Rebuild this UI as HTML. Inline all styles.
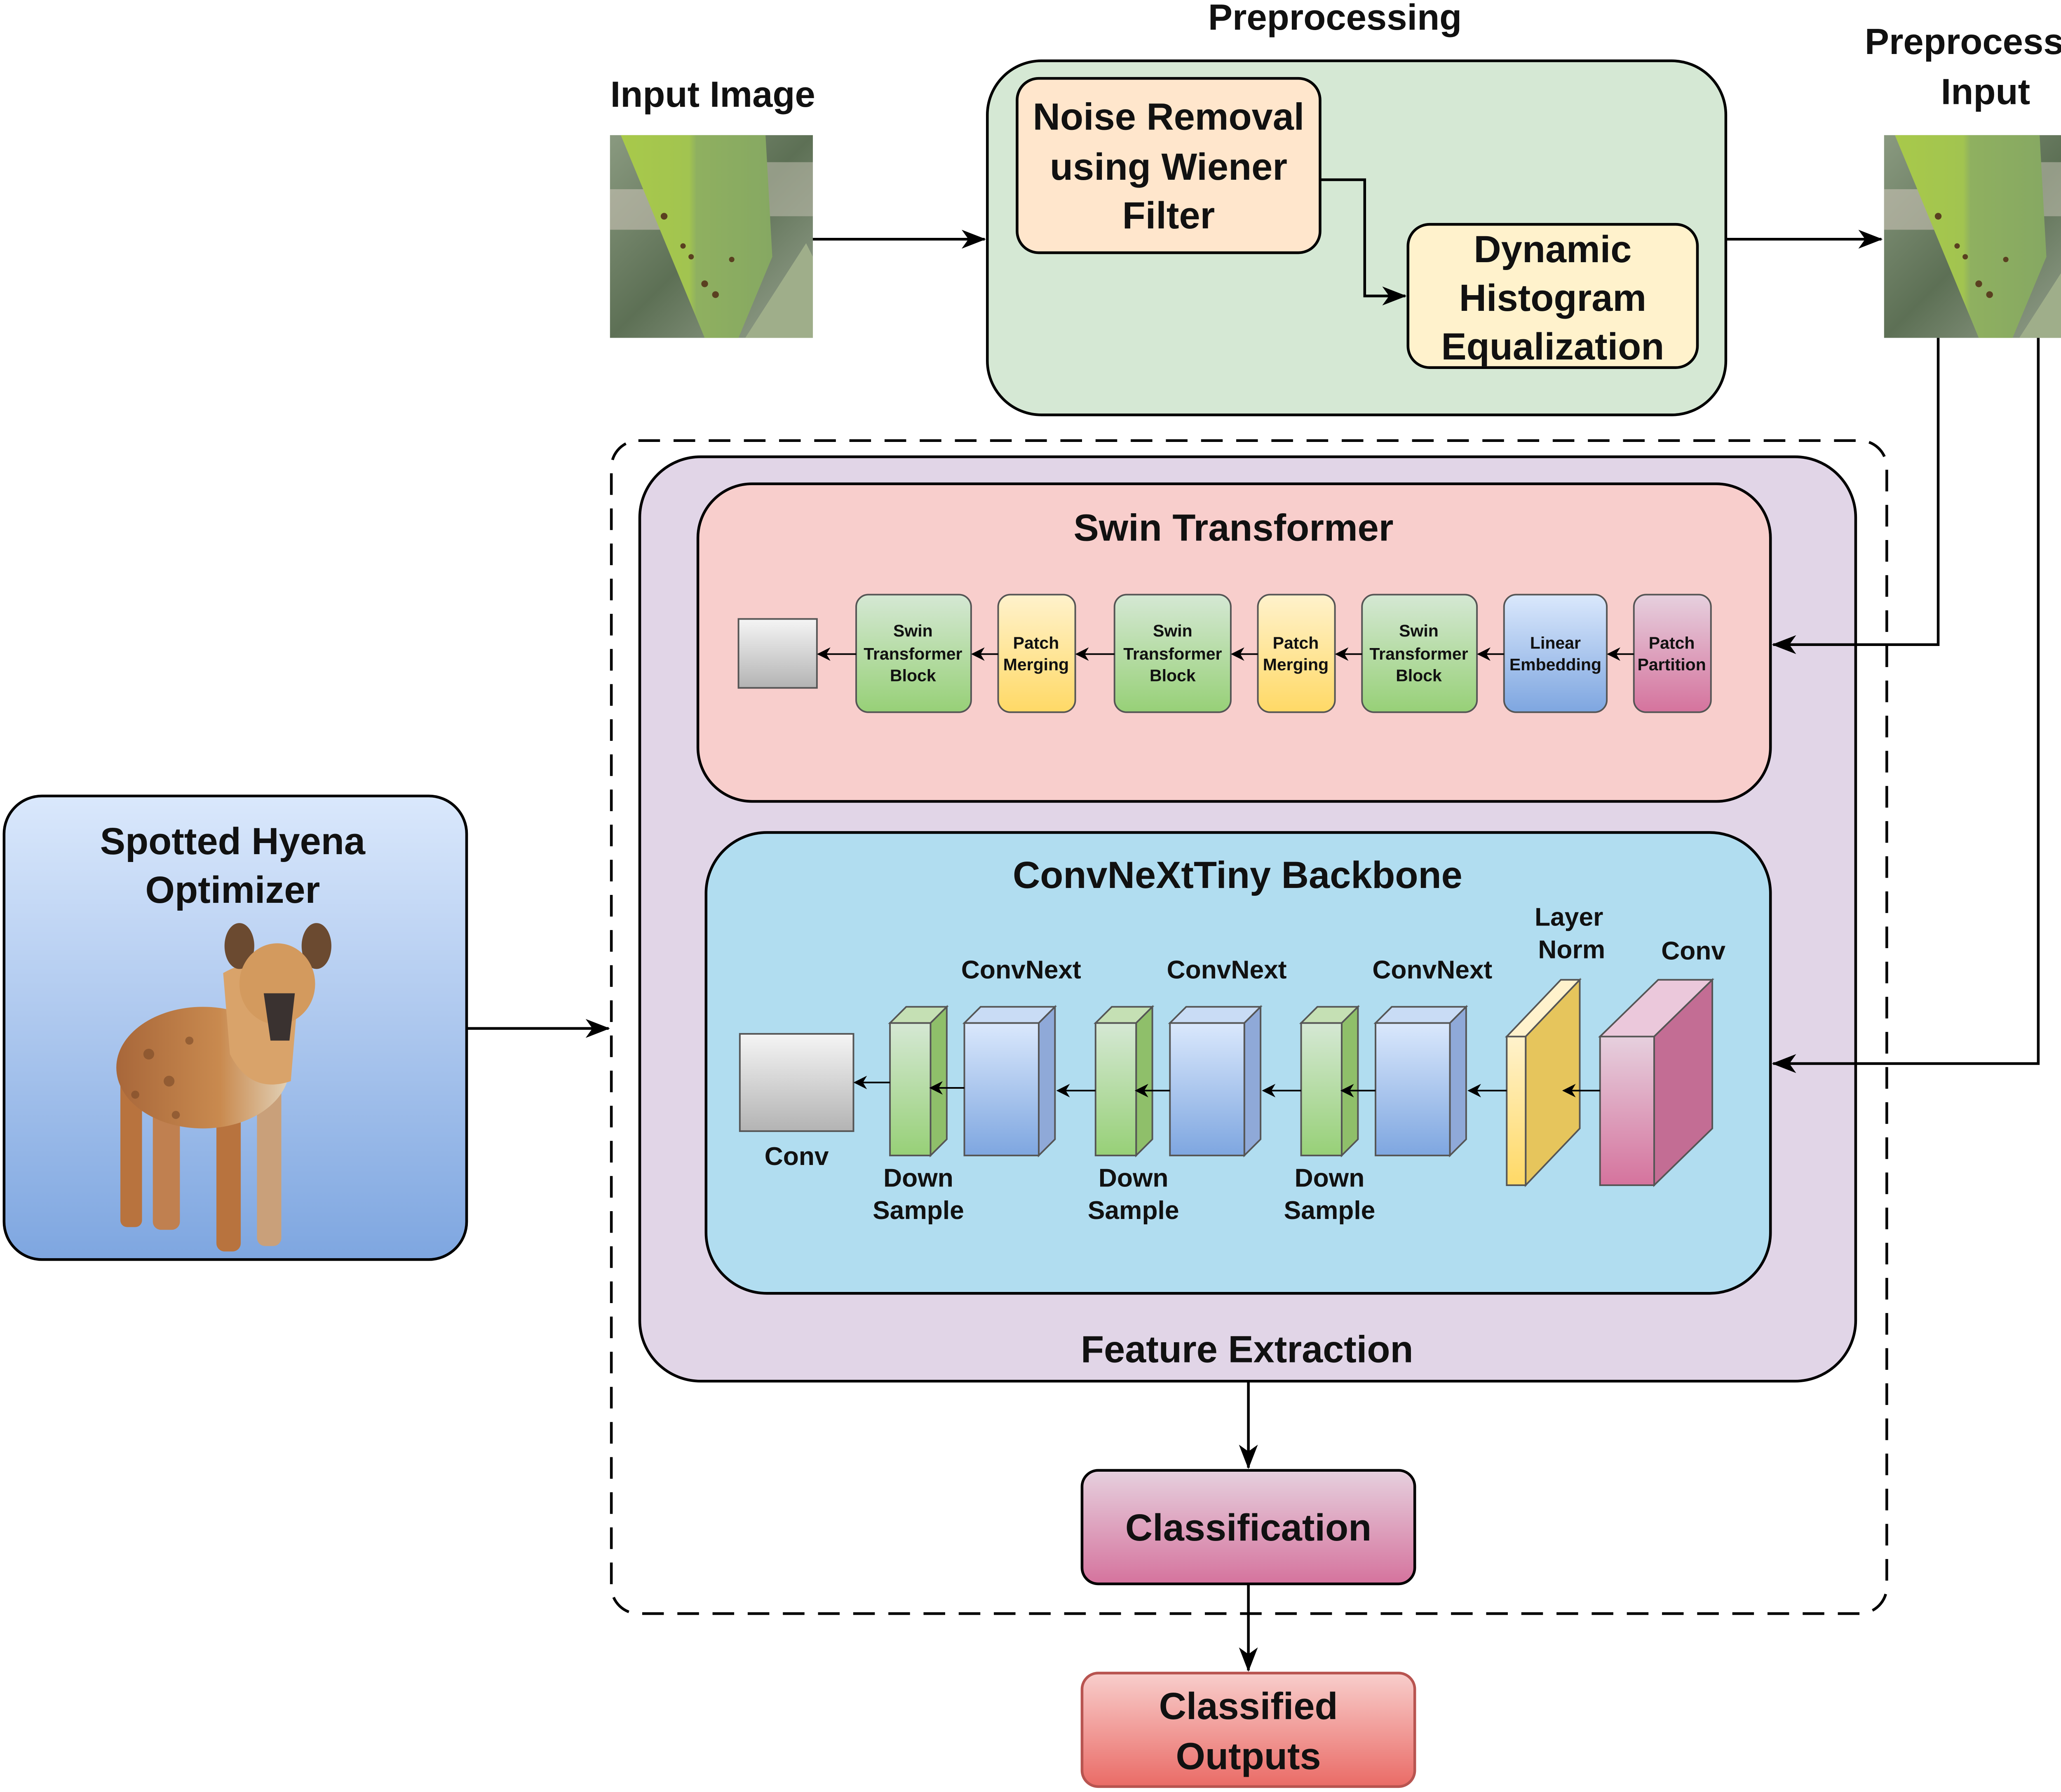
<!DOCTYPE html>
<html><head><meta charset="utf-8"><style>
html,body{margin:0;padding:0;background:#fff;width:5145px;height:4347px;overflow:hidden}
svg{display:block}
text{font-family:"Liberation Sans",sans-serif;font-weight:bold;fill:#111;text-anchor:middle}
</style></head><body>
<svg width="5145" height="4347" viewBox="0 0 1568 1326" preserveAspectRatio="none" xmlns="http://www.w3.org/2000/svg">
<defs>
<marker id="a" markerWidth="10" markerHeight="10" refX="9" refY="5" orient="auto" markerUnits="userSpaceOnUse"><path d="M0,0 L10,5 L0,10 L3,5 z" fill="#000"/></marker>
<marker id="b" markerWidth="18" markerHeight="14" refX="17" refY="7" orient="auto" markerUnits="userSpaceOnUse"><path d="M0,0 L18,7 L0,14 L5,7 z" fill="#000"/></marker>
<linearGradient id="hy" x1="0" y1="0" x2="0" y2="1"><stop offset="0" stop-color="#dae8fc"/><stop offset="1" stop-color="#7ea6e0"/></linearGradient>
<linearGradient id="cl" x1="0" y1="0" x2="0" y2="1"><stop offset="0" stop-color="#e6d0de"/><stop offset="1" stop-color="#d5739d"/></linearGradient>
<linearGradient id="co" x1="0" y1="0" x2="0" y2="1"><stop offset="0" stop-color="#f8cecc"/><stop offset="1" stop-color="#ea6b66"/></linearGradient>
<linearGradient id="gr" x1="0" y1="0" x2="0" y2="1"><stop offset="0" stop-color="#f5f5f5"/><stop offset="1" stop-color="#b3b3b3"/></linearGradient>
<linearGradient id="gn" x1="0" y1="0" x2="0" y2="1"><stop offset="0" stop-color="#d5e8d4"/><stop offset="1" stop-color="#97d077"/></linearGradient>
<linearGradient id="ye" x1="0" y1="0" x2="0" y2="1"><stop offset="0" stop-color="#fff2cc"/><stop offset="1" stop-color="#ffd966"/></linearGradient>
<linearGradient id="bl" x1="0" y1="0" x2="0" y2="1"><stop offset="0" stop-color="#dae8fc"/><stop offset="1" stop-color="#7ea6e0"/></linearGradient>
<linearGradient id="pk" x1="0" y1="0" x2="0" y2="1"><stop offset="0" stop-color="#e6d0de"/><stop offset="1" stop-color="#d5739d"/></linearGradient>
<linearGradient id="bg" x1="0" y1="0" x2="1" y2="1"><stop offset="0" stop-color="#8a9a80"/><stop offset="0.5" stop-color="#5d7055"/><stop offset="1" stop-color="#9aa592"/></linearGradient>
<linearGradient id="lf" x1="0" y1="0" x2="1" y2="0"><stop offset="0" stop-color="#a8c94a"/><stop offset="0.45" stop-color="#a2c450"/><stop offset="0.5" stop-color="#8fb060"/><stop offset="1" stop-color="#86a862"/></linearGradient>
<linearGradient id="hb" x1="0" y1="0" x2="1" y2="0"><stop offset="0" stop-color="#a8673a"/><stop offset="0.6" stop-color="#c98a4f"/><stop offset="1" stop-color="#e2d2b8"/></linearGradient>
<g id="leaf">
<rect x="0" y="0" width="150" height="150" fill="url(#bg)"/>
<rect x="0" y="40" width="40" height="30" fill="#c9c3b5" opacity="0.6"/>
<rect x="105" y="20" width="45" height="40" fill="#b9b9a8" opacity="0.6"/>
<polygon points="8,0 115,0 120,90 95,150 70,150" fill="url(#lf)"/>
<polygon points="100,150 145,80 150,90 150,150" fill="#9fae8a"/>
<g fill="#5a4020"><circle cx="40" cy="60" r="2.5"/><circle cx="54" cy="82" r="2"/><circle cx="60" cy="90" r="2"/><circle cx="70" cy="110" r="2.5"/><circle cx="78" cy="118" r="2.5"/><circle cx="90" cy="92" r="2"/></g>
</g>
</defs>

<!-- Preprocessing -->
<text x="987" y="22" font-size="27">Preprocessing</text>
<rect x="730" y="45" width="546" height="262" rx="40" fill="#d5e8d4" stroke="#000" stroke-width="2"/>
<rect x="752" y="58" width="224" height="129" rx="16" fill="#ffe6cc" stroke="#000" stroke-width="2"/>
<text x="864" y="96" font-size="28">Noise Removal</text>
<text x="864" y="133" font-size="28">using Wiener</text>
<text x="864" y="169" font-size="28">Filter</text>
<rect x="1041" y="166" width="214" height="106" rx="16" fill="#fff2cc" stroke="#000" stroke-width="2"/>
<text x="1148" y="194" font-size="28">Dynamic</text>
<text x="1148" y="230" font-size="28">Histogram</text>
<text x="1148" y="266" font-size="28">Equalization</text>
<polyline points="976,133 1009,133 1009,219 1039,219" fill="none" stroke="#000" stroke-width="2" marker-end="url(#b)"/>

<text x="527" y="79" font-size="27">Input Image</text>
<use href="#leaf" x="451" y="100"/>
<text x="1468" y="40" font-size="27">Preprocessed</text>
<text x="1468" y="77" font-size="27">Input</text>
<use href="#leaf" x="1393" y="100"/>
<line x1="601" y1="177" x2="728" y2="177" stroke="#000" stroke-width="2" marker-end="url(#b)"/>
<line x1="1276" y1="177" x2="1391" y2="177" stroke="#000" stroke-width="2" marker-end="url(#b)"/>

<!-- dashed -->
<rect x="452" y="326" width="943" height="868" rx="20" fill="none" stroke="#000" stroke-width="2" stroke-dasharray="16,10"/>
<rect x="473" y="338" width="899" height="684" rx="45" fill="#e1d5e7" stroke="#000" stroke-width="2"/>
<text x="922" y="1008" font-size="28">Feature Extraction</text>

<!-- Swin -->
<rect x="516" y="358" width="793" height="235" rx="40" fill="#f8cecc" stroke="#000" stroke-width="2"/>
<text x="912" y="400" font-size="28">Swin Transformer</text>
<g stroke="#555" stroke-width="1.2">
<rect x="546" y="458" width="58" height="51" fill="url(#gr)"/>
<rect x="633" y="440" width="85" height="87" rx="9" fill="url(#gn)"/>
<rect x="738" y="440" width="57" height="87" rx="9" fill="url(#ye)"/>
<rect x="824" y="440" width="86" height="87" rx="9" fill="url(#gn)"/>
<rect x="930" y="440" width="57" height="87" rx="9" fill="url(#ye)"/>
<rect x="1007" y="440" width="85" height="87" rx="9" fill="url(#gn)"/>
<rect x="1112" y="440" width="76" height="87" rx="9" fill="url(#bl)"/>
<rect x="1208" y="440" width="57" height="87" rx="9" fill="url(#pk)"/>
</g>
<g font-size="12.5">
<text x="675" y="471">Swin</text><text x="675" y="488">Transformer</text><text x="675" y="504">Block</text>
<text x="766" y="480">Patch</text><text x="766" y="496">Merging</text>
<text x="867" y="471">Swin</text><text x="867" y="488">Transformer</text><text x="867" y="504">Block</text>
<text x="958" y="480">Patch</text><text x="958" y="496">Merging</text>
<text x="1049" y="471">Swin</text><text x="1049" y="488">Transformer</text><text x="1049" y="504">Block</text>
<text x="1150" y="480">Linear</text><text x="1150" y="496">Embedding</text>
<text x="1236" y="480">Patch</text><text x="1236" y="496">Partition</text>
</g>
<g stroke="#000" stroke-width="1.2" marker-end="url(#a)">
<line x1="633" y1="484" x2="605" y2="484"/>
<line x1="738" y1="484" x2="719" y2="484"/>
<line x1="824" y1="484" x2="796" y2="484"/>
<line x1="930" y1="484" x2="911" y2="484"/>
<line x1="1007" y1="484" x2="988" y2="484"/>
<line x1="1112" y1="484" x2="1093" y2="484"/>
<line x1="1208" y1="484" x2="1189" y2="484"/>
</g>

<!-- ConvNeXt -->
<rect x="522" y="616" width="787" height="341" rx="45" fill="#b1ddf0" stroke="#000" stroke-width="2"/>
<text x="915" y="657" font-size="28">ConvNeXtTiny Backbone</text>
<g stroke="#555" stroke-width="1.2">
<rect x="547" y="765" width="84" height="72" fill="url(#gr)"/>
<g id="gc">
<polygon points="658,757 670,745 700,745 688,757" fill="#c5e0b4"/>
<polygon points="688,757 700,745 700,843 688,855" fill="#8fbf6a"/>
<rect x="658" y="757" width="30" height="98" fill="url(#gn)"/>
</g>
<use href="#gc" x="152"/><use href="#gc" x="304"/>
<g id="bc">
<polygon points="713,757 725,745 780,745 768,757" fill="#c9dcf5"/>
<polygon points="768,757 780,745 780,843 768,855" fill="#8fa9d8"/>
<rect x="713" y="757" width="55" height="98" fill="url(#bl)"/>
</g>
<use href="#bc" x="152"/><use href="#bc" x="304"/>
<polygon points="1114,767 1154,725 1168,725 1128,767" fill="#fff2cc"/>
<polygon points="1128,767 1168,725 1168,835 1128,877" fill="#e6c55c"/>
<rect x="1114" y="767" width="14" height="110" fill="url(#ye)"/>
<polygon points="1183,767 1226,725 1266,725 1223,767" fill="#ebc8db"/>
<polygon points="1223,767 1266,725 1266,835 1223,877" fill="#c36d94"/>
<rect x="1183" y="767" width="40" height="110" fill="url(#pk)"/>
</g>
<g stroke="#000" stroke-width="1.2" marker-end="url(#a)">
<line x1="658" y1="801" x2="632" y2="801"/>
<line x1="713" y1="805" x2="688" y2="805"/>
<line x1="810" y1="807" x2="782" y2="807"/>
<line x1="865" y1="807" x2="840" y2="807"/>
<line x1="962" y1="807" x2="934" y2="807"/>
<line x1="1017" y1="807" x2="992" y2="807"/>
<line x1="1114" y1="807" x2="1086" y2="807"/>
<line x1="1183" y1="807" x2="1156" y2="807"/>
</g>
<g font-size="19">
<text x="589" y="862">Conv</text>
<text x="679" y="878">Down</text><text x="679" y="902">Sample</text>
<text x="838" y="878">Down</text><text x="838" y="902">Sample</text>
<text x="983" y="878">Down</text><text x="983" y="902">Sample</text>
<text x="755" y="724">ConvNext</text>
<text x="907" y="724">ConvNext</text>
<text x="1059" y="724">ConvNext</text>
<text x="1160" y="685">Layer</text><text x="1162" y="709">Norm</text>
<text x="1252" y="710">Conv</text>
</g>

<!-- right side arrows -->
<polyline points="1433,250 1433,477 1311,477" fill="none" stroke="#000" stroke-width="2" marker-end="url(#b)"/>
<polyline points="1507,250 1507,787 1311,787" fill="none" stroke="#000" stroke-width="2" marker-end="url(#b)"/>

<!-- Hyena -->
<rect x="3" y="589" width="342" height="343" rx="28" fill="url(#hy)" stroke="#000" stroke-width="2"/>
<text x="172" y="632" font-size="28">Spotted Hyena</text>
<text x="172" y="668" font-size="28">Optimizer</text>
<g>
<rect x="89" y="790" width="16" height="118" rx="5" fill="#b8733e"/>
<rect x="113" y="800" width="20" height="110" rx="6" fill="#c08050"/>
<rect x="160" y="800" width="18" height="126" rx="6" fill="#b8733e"/>
<rect x="190" y="800" width="18" height="122" rx="6" fill="#c9a07a"/>
<ellipse cx="150" cy="790" rx="64" ry="45" fill="url(#hb)"/>
<path d="M165,720 Q200,700 220,740 L215,800 Q185,810 170,780 Z" fill="#d9a36a"/>
<ellipse cx="177" cy="700" rx="11" ry="17" fill="#6b4a30"/>
<ellipse cx="234" cy="700" rx="11" ry="17" fill="#6b4a30"/>
<ellipse cx="205" cy="728" rx="28" ry="30" fill="#d39a5e"/>
<path d="M195,735 L218,735 L214,770 L200,770 Z" fill="#3a3230"/>
<g fill="#7a4a28" opacity="0.6"><circle cx="110" cy="780" r="4"/><circle cx="125" cy="800" r="4"/><circle cx="140" cy="770" r="3"/><circle cx="100" cy="810" r="3"/><circle cx="130" cy="825" r="3"/></g>
</g>
<line x1="345" y1="761" x2="450" y2="761" stroke="#000" stroke-width="2" marker-end="url(#b)"/>

<!-- Classification -->
<line x1="923" y1="1022" x2="923" y2="1086" stroke="#000" stroke-width="2" marker-end="url(#b)"/>
<rect x="800" y="1088" width="246" height="84" rx="12" fill="url(#cl)" stroke="#000" stroke-width="2"/>
<text x="923" y="1140" font-size="28">Classification</text>
<line x1="923" y1="1172" x2="923" y2="1236" stroke="#000" stroke-width="2" marker-end="url(#b)"/>
<rect x="800" y="1238" width="246" height="84" rx="12" fill="url(#co)" stroke="#b85450" stroke-width="2"/>
<text x="923" y="1272" font-size="28">Classified</text>
<text x="923" y="1309" font-size="28">Outputs</text>
</svg>
</body></html>
